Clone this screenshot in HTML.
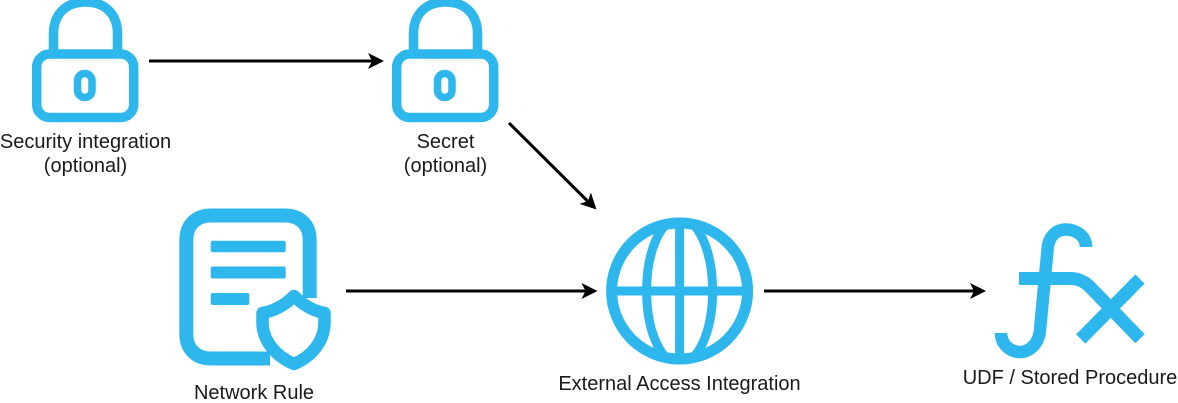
<!DOCTYPE html>
<html>
<head>
<meta charset="utf-8">
<style>
html,body{margin:0;padding:0;background:#fff;}
svg{display:block;}
text{font-family:"Liberation Sans",sans-serif;font-size:20px;fill:#1a1a1a;text-anchor:middle;}
</style>
</head>
<body>
<svg width="1178" height="403" viewBox="0 0 1178 403" xmlns="http://www.w3.org/2000/svg">
<defs>
<g id="lock" fill="none" stroke="#2DB7EC" stroke-width="9.5">
<rect x="36.7" y="54" width="97" height="63.5" rx="13"/>
<path d="M53.5 52 V34 C53.5 14 66 2 85.5 2 C105 2 117.5 14 117.5 34 V52"/>
<rect x="77.5" y="73.5" width="14.5" height="24" rx="7.2" stroke-width="7.5"/>
</g>
<path id="head" d="M0 0 L-16 -8 L-12 0 L-16 8 Z" fill="#000"/>
<clipPath id="globeClip"><circle cx="679.6" cy="291" r="73.5"/></clipPath>
</defs>

<use href="#lock"/>
<use href="#lock" x="360"/>

<!-- Network rule -->
<g fill="none" stroke="#2DB7EC">
<path d="M309.7 298 V240 C309.7 225 300 215.5 285 215.5 H211 C196 215.5 186.3 225 186.3 240 V334 C186.3 349 196 358.5 211 358.5 H270" stroke-width="14"/>
<path d="M294 296 C284 306 274 311 262.5 313 V322 C262.5 340 275 356 294 364 C313 356 324.5 340 324.5 322 V313 C314 311 304 306 294 296 Z" stroke-width="12.5" stroke-linejoin="round" fill="#fff"/>
</g>
<g fill="#2DB7EC">
<rect x="210.7" y="240.7" width="75" height="11.6" rx="2"/>
<rect x="210.7" y="266.5" width="75" height="12" rx="2"/>
<rect x="210.7" y="293" width="38.6" height="12" rx="2"/>
</g>

<!-- Globe -->
<g fill="none" stroke="#2DB7EC">
<circle cx="679.6" cy="291" r="68" stroke-width="11"/>
<ellipse cx="679.6" cy="291" rx="33" ry="73" stroke-width="9" clip-path="url(#globeClip)"/>
<path d="M611 291 H748 M679.6 223 V359" stroke-width="9"/>
</g>

<!-- fx -->
<g fill="none" stroke="#2DB7EC" stroke-width="12.5">
<path d="M1086 247 C1086 236 1076 229.5 1066 229.5 C1055 229.5 1048 238 1047.5 250 L1040 330 C1039 343 1030 352 1020 352 C1010 352 1001 344 1001 333"/>
<path d="M1019 278.5 H1070 C1078 278.5 1084 281 1090 287 L1140 338.7" stroke-width="13"/>
<path d="M1140 279 L1080.7 339" stroke-width="13"/>
</g>

<!-- Arrows -->
<g stroke="#000" stroke-width="3" fill="none">
<path d="M149 61 H372"/>
<path d="M509 123 L588 201.500"/>
<path d="M346 291 H586"/>
<path d="M764 291 H975"/>
</g>
<use href="#head" transform="translate(384 61)"/>
<use href="#head" transform="translate(596.500 209.500) rotate(45)"/>
<use href="#head" transform="translate(597.500 291)"/>
<use href="#head" transform="translate(986 291)"/>

<!-- Labels -->
<text x="85.500" y="148">Security integration</text>
<text x="85.500" y="172">(optional)</text>
<text x="445.500" y="148">Secret</text>
<text x="445.500" y="172">(optional)</text>
<text x="254" y="399">Network Rule</text>
<text x="679.500" y="390">External Access Integration</text>
<text x="1070" y="384">UDF / Stored Procedure</text>
</svg>
</body>
</html>
